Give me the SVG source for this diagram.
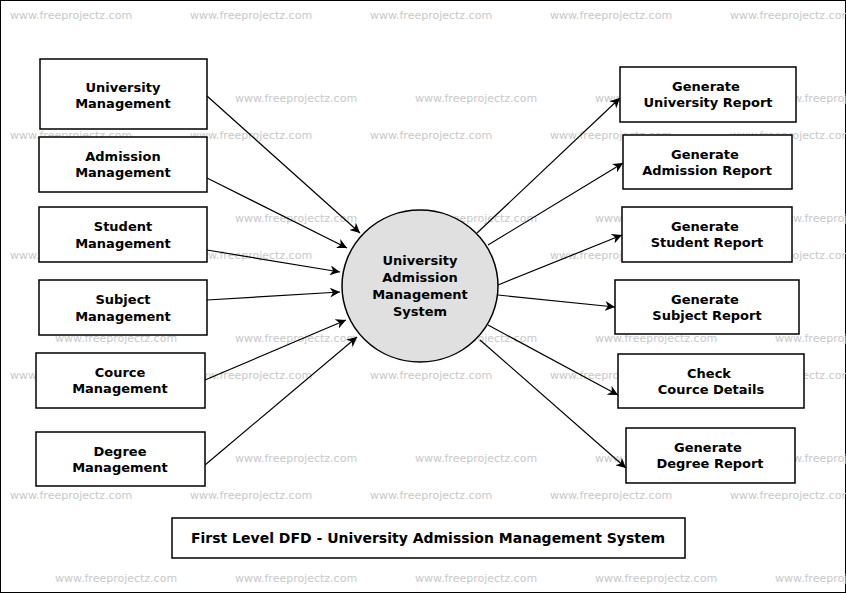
<svg xmlns="http://www.w3.org/2000/svg" width="846" height="593" viewBox="0 0 846 593">
<style>
.b{fill:#fff;stroke:#000;stroke-width:1.5}
.t{font-family:"DejaVu Sans",sans-serif;font-weight:bold;font-size:13px;text-anchor:middle}
.w{font-family:"DejaVu Sans",sans-serif;font-size:11px;fill:#c8c8c8}
.c line{stroke:#000;stroke-width:1.2;marker-end:url(#a)}
</style>
<defs><marker id="a" viewBox="0 0 10 10" refX="10" refY="5" markerWidth="10" markerHeight="10" markerUnits="userSpaceOnUse" orient="auto"><path d="M0,0L10,5L0,10L3,5z"/></marker></defs>
<rect x="0.5" y="0.5" width="845" height="592" fill="#fff" stroke="#000"/>
<g id="wm">
<text class="w" x="10" y="19">www.freeprojectz.com</text><text class="w" x="190" y="19">www.freeprojectz.com</text><text class="w" x="370" y="19">www.freeprojectz.com</text><text class="w" x="550" y="19">www.freeprojectz.com</text><text class="w" x="730" y="19">www.freeprojectz.com</text>
<text class="w" x="55" y="102">www.freeprojectz.com</text><text class="w" x="235" y="102">www.freeprojectz.com</text><text class="w" x="415" y="102">www.freeprojectz.com</text><text class="w" x="595" y="102">www.freeprojectz.com</text><text class="w" x="775" y="102">www.freeprojectz.com</text>
<text class="w" x="10" y="139">www.freeprojectz.com</text><text class="w" x="190" y="139">www.freeprojectz.com</text><text class="w" x="370" y="139">www.freeprojectz.com</text><text class="w" x="550" y="139">www.freeprojectz.com</text><text class="w" x="730" y="139">www.freeprojectz.com</text>
<text class="w" x="55" y="222">www.freeprojectz.com</text><text class="w" x="235" y="222">www.freeprojectz.com</text><text class="w" x="415" y="222">www.freeprojectz.com</text><text class="w" x="595" y="222">www.freeprojectz.com</text><text class="w" x="775" y="222">www.freeprojectz.com</text>
<text class="w" x="10" y="259">www.freeprojectz.com</text><text class="w" x="190" y="259">www.freeprojectz.com</text><text class="w" x="370" y="259">www.freeprojectz.com</text><text class="w" x="550" y="259">www.freeprojectz.com</text><text class="w" x="730" y="259">www.freeprojectz.com</text>
<text class="w" x="55" y="342">www.freeprojectz.com</text><text class="w" x="235" y="342">www.freeprojectz.com</text><text class="w" x="415" y="342">www.freeprojectz.com</text><text class="w" x="595" y="342">www.freeprojectz.com</text><text class="w" x="775" y="342">www.freeprojectz.com</text>
<text class="w" x="10" y="379">www.freeprojectz.com</text><text class="w" x="190" y="379">www.freeprojectz.com</text><text class="w" x="370" y="379">www.freeprojectz.com</text><text class="w" x="550" y="379">www.freeprojectz.com</text><text class="w" x="730" y="379">www.freeprojectz.com</text>
<text class="w" x="55" y="462">www.freeprojectz.com</text><text class="w" x="235" y="462">www.freeprojectz.com</text><text class="w" x="415" y="462">www.freeprojectz.com</text><text class="w" x="595" y="462">www.freeprojectz.com</text><text class="w" x="775" y="462">www.freeprojectz.com</text>
<text class="w" x="10" y="499">www.freeprojectz.com</text><text class="w" x="190" y="499">www.freeprojectz.com</text><text class="w" x="370" y="499">www.freeprojectz.com</text><text class="w" x="550" y="499">www.freeprojectz.com</text><text class="w" x="730" y="499">www.freeprojectz.com</text>
<text class="w" x="55" y="582">www.freeprojectz.com</text><text class="w" x="235" y="582">www.freeprojectz.com</text><text class="w" x="415" y="582">www.freeprojectz.com</text><text class="w" x="595" y="582">www.freeprojectz.com</text><text class="w" x="775" y="582">www.freeprojectz.com</text>
</g>
<g class="c" id="connectors">
<line x1="207" y1="96" x2="360" y2="233"/>
<line x1="207" y1="178" x2="347" y2="248"/>
<line x1="207" y1="250" x2="340" y2="272"/>
<line x1="207" y1="300" x2="340" y2="292"/>
<line x1="205" y1="380" x2="346" y2="320"/>
<line x1="205" y1="465" x2="357" y2="337"/>
<line x1="477" y1="233" x2="620" y2="98"/>
<line x1="488" y1="245" x2="623" y2="163"/>
<line x1="498" y1="285" x2="622" y2="235"/>
<line x1="498" y1="295" x2="615" y2="307"/>
<line x1="488" y1="325" x2="618" y2="395"/>
<line x1="480" y1="340" x2="626" y2="468"/>
</g>
<g id="center"><ellipse cx="420" cy="286" rx="78" ry="76" fill="#e0e0e0" stroke="#000" stroke-width="1.5"/>
<text class="t" x="420" y="265">University</text><text class="t" x="420" y="282">Admission</text><text class="t" x="420" y="299">Management</text><text class="t" x="420" y="316">System</text></g>
<g id="l1"><rect class="b" x="40" y="59" width="167" height="70"/><text class="t" x="123" y="92">University</text><text class="t" x="123" y="108">Management</text></g>
<g id="l2"><rect class="b" x="39" y="137" width="168" height="55"/><text class="t" x="123" y="161">Admission</text><text class="t" x="123" y="177">Management</text></g>
<g id="l3"><rect class="b" x="39" y="207" width="168" height="55"/><text class="t" x="123" y="231">Student</text><text class="t" x="123" y="248">Management</text></g>
<g id="l4"><rect class="b" x="39" y="280" width="168" height="55"/><text class="t" x="123" y="304">Subject</text><text class="t" x="123" y="321">Management</text></g>
<g id="l5"><rect class="b" x="36" y="353" width="169" height="55"/><text class="t" x="120" y="377">Cource</text><text class="t" x="120" y="393">Management</text></g>
<g id="l6"><rect class="b" x="36" y="432" width="169" height="54"/><text class="t" x="120" y="456">Degree</text><text class="t" x="120" y="472">Management</text></g>
<g id="r1"><rect class="b" x="620" y="67" width="176" height="55"/><text class="t" x="706" y="91">Generate</text><text class="t" x="708" y="107">University Report</text></g>
<g id="r2"><rect class="b" x="623" y="135" width="169" height="54"/><text class="t" x="705" y="159">Generate</text><text class="t" x="707" y="175">Admission Report</text></g>
<g id="r3"><rect class="b" x="622" y="207" width="170" height="55"/><text class="t" x="705" y="231">Generate</text><text class="t" x="707" y="247">Student Report</text></g>
<g id="r4"><rect class="b" x="615" y="280" width="184" height="54"/><text class="t" x="705" y="304">Generate</text><text class="t" x="707" y="320">Subject Report</text></g>
<g id="r5"><rect class="b" x="618" y="354" width="186" height="54"/><text class="t" x="709" y="378">Check</text><text class="t" x="711" y="394">Cource Details</text></g>
<g id="r6"><rect class="b" x="626" y="428" width="169" height="55"/><text class="t" x="708" y="452">Generate</text><text class="t" x="710" y="468">Degree Report</text></g>
<g id="title"><rect class="b" x="172" y="518" width="513" height="40"/><text class="t" x="428" y="543" style="font-size:14px">First Level DFD - University Admission Management System</text></g>
</svg>
